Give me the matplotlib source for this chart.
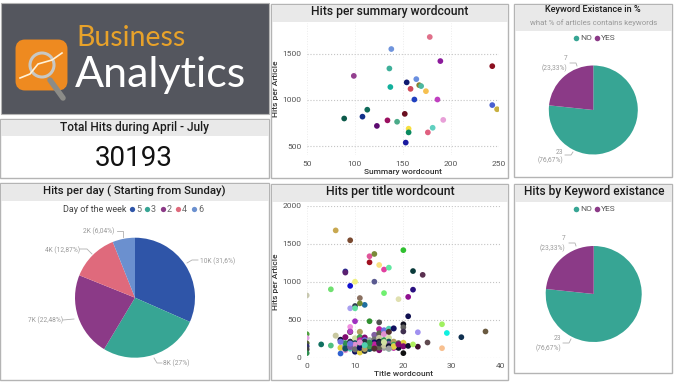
import matplotlib
matplotlib.use("Agg")
import matplotlib.pyplot as plt
from matplotlib.patches import Rectangle, FancyBboxPatch, Circle

W, H = 680, 383

# chart data
summary_words = [178, 138, 189, 243, 136, 99, 164, 154, 167, 169, 137, 158, 174, 162, 186,
                 243, 248, 113, 152, 89, 108, 134, 144, 192, 123, 181, 156, 156, 176, 153]
summary_hits = [1680, 1550, 1420, 1365, 1340, 1260, 1225, 1190, 1160, 1150, 1140, 1120, 1095, 1005, 1005,
                945, 900, 895, 850, 800, 820, 780, 765, 785, 720, 700, 690, 650, 650, 540]
summary_colors = ["#e0708a", "#6f94dc", "#8b1a9b", "#8b0f1f", "#3fb09a", "#93408f", "#6a8fe0", "#101a70",
                  "#8a8030", "#4cb8a0", "#12b09c", "#d04a5a", "#f6c050", "#2040c0", "#c040c0",
                  "#4a60d0", "#c8b040", "#0f6a5a", "#6a0f20", "#0c5a4a", "#12308a", "#9a1060",
                  "#4aaa88", "#e8a0d8", "#5c0a70", "#60d0c0", "#f8e040", "#0a8a60", "#e06080", "#1a1aa0"]

# the loose points of the title chart
title_words = [6, 9, 13, 14, 20, 13, 15, 16, 17, 8, 8, 22, 24, 10, 14, 5, 9, 22, 16, 21, 19, 11, 0, 12, 11,
               10, 9, 10, 21, 10, 13, 15, 9, 9, 20, 20, 20, 28, 29, 23, 32, 37, 25, 28, 23, 21, 22, 20, 3, 5,
               0, 0, 0, 0, 0, 0, 7]
title_hits = [1675, 1545, 1335, 1365, 1415, 1255, 1220, 1160, 1185, 1135, 1120, 1140, 1090, 1000, 1000, 900,
              945, 895, 850, 800, 770, 785, 820, 695, 715, 680, 650, 650, 545, 480, 480, 465, 405, 345, 440,
              400, 345, 440, 325, 335, 270, 345, 200, 125, 145, 155, 175, 60, 175, 160, 310, 260, 190, 150,
              110, 60, 55]
title_colors = ["#c8a850", "#7a4a30", "#e0559a", "#7a8a3a", "#30c030", "#a01020", "#f8e080", "#e040a0",
                "#60e8a0", "#2a2a90", "#5a2070", "#0a3a3a", "#5a3050", "#f0f080", "#5a5a90", "#70e070",
                "#1010d0", "#2a1080", "#70f070", "#901090", "#e0e0b0", "#8a7060", "#c8c8b0", "#2070a0",
                "#708a30", "#304050", "#a8a0f0", "#60e0a0", "#101050", "#a030c0", "#309030", "#505050",
                "#f090e0", "#b040c0", "#101020", "#606060", "#403050", "#a0f060", "#10f0e0", "#a090f0",
                "#103050", "#6a5a40", "#604a50", "#f8c090", "#401030", "#101030", "#b0f060", "#101010",
                "#107060", "#50c080", "#50a040", "#e0a0e0", "#506030", "#303070", "#404040", "#309050",
                "#3060d0"]

# the dense part of the title chart, bottom middle
cluster_words = [6, 7, 7, 8, 8, 8, 8, 9, 9, 9, 9, 10, 10, 10, 10, 10, 11, 11, 11, 11, 11, 11, 11, 12, 12, 12,
                 12, 12, 13, 13, 13, 13, 13, 14, 14, 14, 14, 14, 15, 15, 15, 15, 15, 15, 16, 16, 16, 16, 16,
                 17, 17, 17, 17, 17, 17, 18, 18, 18, 18, 19, 19, 19, 20, 20, 7, 10, 11, 12, 15, 17, 16, 18,
                 8, 9, 10, 11, 12, 13, 14, 15, 16, 17, 18, 19, 9, 11, 13, 15, 17, 12, 14, 16]
cluster_hits = [290, 235, 130, 270, 150, 100, 190, 210, 170, 120, 340, 255, 190, 160, 130, 80, 340, 270, 230,
                190, 160, 110, 70, 265, 230, 190, 140, 90, 230, 200, 170, 130, 115, 300, 240, 200, 160, 130,
                375, 320, 260, 210, 170, 100, 360, 310, 230, 190, 130, 380, 340, 260, 210, 180, 140, 385,
                210, 170, 130, 190, 160, 130, 195, 150, 210, 170, 150, 210, 140, 120, 170, 150,
                120, 140, 110, 130, 115, 150, 175, 135, 160, 150, 145, 175, 185, 200, 195, 190, 120, 165, 120, 205]
cluster_palette = ["#c8c8a0", "#101030", "#e0d040", "#800a70", "#7070e0", "#e090d0", "#309050", "#283040",
                   "#a0a0a0", "#50d0b0", "#503030", "#d0e0a0", "#105060", "#8060a0", "#707070", "#101060",
                   "#b0a060", "#40a050", "#c020a0", "#606050"]

day_labels = ["5", "3", "2", "4", "6"]
day_shares = [31.6, 27, 22.48, 12.87, 6.04]
day_colors = ["#2f55a8", "#37a594", "#8b3a87", "#df6a7c", "#6b90cf"]
day_text = ["10K (31,6%)", "8K (27%)", "7K (22,48%)", "4K (12,87%)", "2K (6,04%)"]

keyword_labels = ["NO", "YES"]
keyword_counts = [23, 7]
keyword_colors = ["#37a594", "#8b3a87"]

plt.rcParams["font.family"] = ["Roboto", "DejaVu Sans"]


def px_axes(fig, left, top, right, bottom):
    # axes given in image pixels, y going down
    return fig.add_axes([left / W, 1 - bottom / H, (right - left) / W, (bottom - top) / H])


def panel(bg, x0, y0, x1, y1, head):
    bg.add_patch(Rectangle((x0, y0), x1 - x0, y1 - y0, fc="white", ec="#b4b4b4", lw=1))
    bg.add_patch(Rectangle((x0 + 0.5, y0 + 0.5), x1 - x0 - 1, head, fc="#e9e9e9", ec="none"))


def head_text(bg, x, y, text, size):
    bg.text(x, y, text, fontsize=size, color="#1c1c1c", fontweight="medium", ha="center", va="center")


def style_scatter(ax, xticks, yticks, xlim, ylim, xlabel):
    ax.set_xlim(*xlim)
    ax.set_ylim(*ylim)
    ax.set_xticks(xticks)
    ax.set_yticks(yticks)
    ax.patch.set_alpha(0)
    for s in ax.spines.values():
        s.set_visible(False)
    ax.grid(axis="y", color="#c4c4c4", ls=":", lw=0.8)
    ax.grid(axis="x", color="#ececec", ls=":", lw=0.7)
    ax.set_axisbelow(True)
    ax.tick_params(length=0, labelsize=6, labelcolor="#555555", pad=4)
    ax.set_xlabel(xlabel, fontsize=6, color="#333333", fontweight="medium", labelpad=1.5)
    ax.set_ylabel("Hits per Article", fontsize=6, color="#333333", fontweight="medium")
    width = ax.get_position().width * W
    ax.yaxis.set_label_coords(-27.7 / width, 0.5)


def pie(fig, cx, cy, r, values, colors):
    ax = px_axes(fig, cx - r, cy - r, cx + r, cy + r)
    ax.pie(values, colors=colors, startangle=90, counterclock=False, radius=1,
           wedgeprops={"linewidth": 0})
    ax.set_xlim(-1, 1)
    ax.set_ylim(-1, 1)
    return ax


def leader(bg, xs, ys):
    bg.plot(xs, ys, color="#b0b0b0", lw=0.6)


def main():
    fig = plt.figure(figsize=(W / 100, H / 100), dpi=100, facecolor="white")
    bg = fig.add_axes([0, 0, 1, 1])
    bg.set_xlim(0, W)
    bg.set_ylim(H, 0)
    bg.axis("off")

    # logo
    bg.add_patch(Rectangle((1, 3), 268, 111, fc="#54565e", ec="#b4b4b4", lw=0.8))
    bg.add_patch(FancyBboxPatch((19, 43), 45, 44, boxstyle="round,pad=0,rounding_size=6", fc="#ee8a20",
                                ec="#ee8a20", lw=5))
    bg.plot([20, 30, 38, 45, 52, 62], [78, 74, 64, 62, 60, 53], color="#fff2d8", lw=1.2)
    bg.plot([50, 63], [80, 98], color="#8c8c88", lw=4, solid_capstyle="round")
    bg.add_patch(Circle((42, 65), 12, fc="none", ec="#c8c8c4", lw=2.2))
    bg.text(76, 46, "Business", color="#e8a22a", fontsize=20.5, family="Lato", ha="left", va="baseline")
    bg.text(75, 87, "Analytics", color="white", fontsize=31, family="Lato", ha="left", va="baseline")

    # total hits card
    panel(bg, 0, 119, 269, 178, 16)
    head_text(bg, 134, 127, "Total Hits during April - July", 8.6)
    bg.text(134, 159, "30193", fontsize=20, color="#111111", ha="center", va="center")

    panel(bg, 271, 4, 508, 178, 17)
    head_text(bg, 390, 12, "Hits per summary wordcount", 8.7)

    panel(bg, 514, 4, 672, 177, 26)
    head_text(bg, 593, 10, "Keyword Existance in %", 6.6)
    bg.text(594, 23, "what % of articles contains keywords", fontsize=5.6, color="#999999", ha="center", va="center")

    panel(bg, 0, 183, 269, 380, 17)
    head_text(bg, 134, 191, "Hits per day ( Starting from Sunday)", 8.2)

    panel(bg, 271, 184, 508, 380, 17)
    head_text(bg, 390, 192, "Hits per title wordcount", 8.8)

    panel(bg, 514, 184, 672, 373, 17)
    head_text(bg, 594, 192, "Hits by Keyword existance", 8.6)

    # summary scatter
    ax = px_axes(fig, 306.7, 23, 499, 155)
    ax.scatter(summary_words, summary_hits, c=summary_colors, s=17, linewidths=0, zorder=3)
    style_scatter(ax, [50, 100, 150, 200, 250], [500, 1000, 1500], (50, 250), (406, 1831), "Summary wordcount")

    # title scatter
    ax = px_axes(fig, 306.7, 205.7, 500, 357.7)
    colors = [cluster_palette[i % len(cluster_palette)] for i in range(len(cluster_words))]
    ax.scatter(cluster_words, cluster_hits, c=colors, s=19, linewidths=0, zorder=3)
    ax.scatter(title_words, title_hits, c=title_colors, s=17, linewidths=0, zorder=3)
    style_scatter(ax, [0, 10, 20, 30, 40], [0, 500, 1000, 1500, 2000], (0, 40), (0, 2000), "Title wordcount")

    # pies
    pie(fig, 135, 297.7, 60, day_shares, day_colors)
    pie(fig, 593.3, 110, 44.5, keyword_counts, keyword_colors)
    pie(fig, 593.7, 294, 48, keyword_counts, keyword_colors)

    # day legend and labels
    bg.text(63, 209, "Day of the week", fontsize=6.5, color="#444444", ha="left", va="center")
    for x, lab, c in zip([132, 147, 163, 178, 194], day_labels, day_colors):
        bg.plot([x], [209], "o", ms=3.8, color=c, mew=0)
        bg.text(x + 4, 209, lab, fontsize=6.5, color="#666666", ha="left", va="center")
    pos = [(200, 261), (163, 363), (28, 320), (45, 250), (83, 231)]
    for (x, y), t in zip(pos, day_text):
        bg.text(x, y, t, fontsize=4.8, color="#999999", ha="left", va="center")
    leader(bg, [187, 192, 198], [263, 260, 260])
    leader(bg, [154, 157, 162], [358, 363, 363])
    leader(bg, [63, 74], [320, 319])
    leader(bg, [80, 87, 92], [249, 249, 254])
    leader(bg, [117, 123, 123], [231, 231, 237])

    # keyword legends
    for y in [38, 209]:
        for x, lab, c in zip([576, 597], keyword_labels, keyword_colors):
            bg.plot([x], [y], "o", ms=4, color=c, mew=0)
            bg.text(x + 4, y, lab, fontsize=6, color="#555555", ha="left", va="center")

    # keyword labels, top pie
    bg.text(566, 59, "7", fontsize=4.8, color="#999999", ha="center", va="center")
    bg.text(555, 68, "(23,33%)", fontsize=4.8, color="#999999", ha="center", va="center")
    leader(bg, [570, 576, 577], [63, 63, 66])
    bg.text(559, 152, "23", fontsize=4.8, color="#999999", ha="center", va="center")
    bg.text(550, 160, "(76,67%)", fontsize=4.8, color="#999999", ha="center", va="center")
    leader(bg, [565, 571, 573], [155, 155, 152])

    # keyword labels, bottom pie
    bg.text(564, 239, "7", fontsize=4.8, color="#999999", ha="center", va="center")
    bg.text(553, 248, "(23,33%)", fontsize=4.8, color="#999999", ha="center", va="center")
    leader(bg, [569, 575, 576], [243, 243, 246])
    bg.text(557, 339, "23", fontsize=4.8, color="#999999", ha="center", va="center")
    bg.text(548, 348, "(76,67%)", fontsize=4.8, color="#999999", ha="center", va="center")
    leader(bg, [563, 569, 571], [343, 343, 339])

    fig.savefig("out.png", dpi=100)


if __name__ == "__main__":
    main()
